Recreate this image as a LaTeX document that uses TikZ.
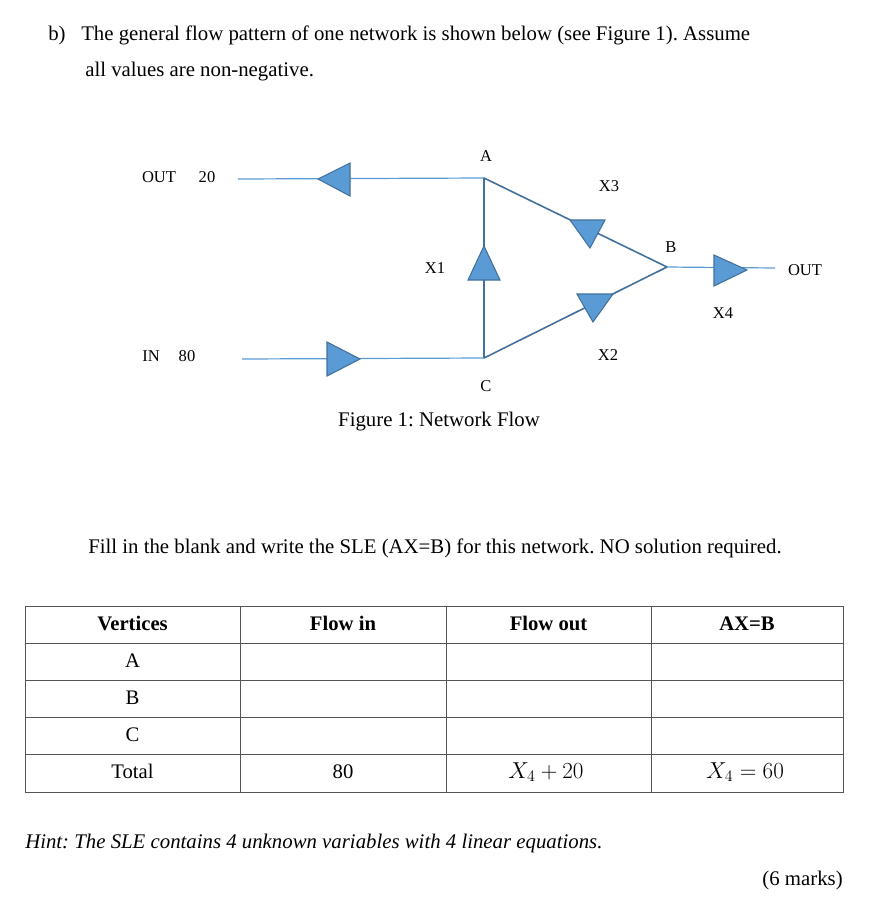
\documentclass[tikz,border=0pt]{standalone}
\usepackage{fontspec}
\setmainfont{Liberation Serif}
\frenchspacing
\definecolor{linec}{HTML}{5B9BD5}
\definecolor{edgec}{HTML}{41719C}
\definecolor{gridc}{HTML}{555555}
\begin{document}
\begin{tikzpicture}[x=0.75pt,y=-0.75pt,
  txt/.style={inner sep=0pt,font=\fontsize{15.6}{18}\selectfont},
  lbl/.style={inner sep=0pt,font=\fontsize{12.4}{14}\selectfont},
  cell/.style={inner sep=0pt,anchor=base,font=\fontsize{15.5}{18}\selectfont},
  mcell/.style={inner sep=0pt,anchor=base,font=\fontsize{17.2}{20}\selectfont},
  flow/.style={draw=linec,line width=0.9pt},
  edge/.style={draw=edgec,line width=1.2pt},
  tri/.style={fill=linec,draw=edgec,line width=0.8pt,line join=miter},
  grid/.style={draw=gridc,line width=0.7pt}]
\useasboundingbox (0,0) rectangle (882,922);

% heading
\node[txt,anchor=base west] (b) at (48,40) {b)};
\node[txt,anchor=base west] (l1) at (81,40) {The general flow pattern of one network is shown below (see Figure 1). Assume};
\node[txt,anchor=base west] (l2) at (85,76) {all values are non-negative.};

% network points
\coordinate (A) at (484,178);
\coordinate (B) at (667,267);
\coordinate (C) at (484,358);
\coordinate (outL) at (238,179);
\coordinate (inL) at (242,359);
\coordinate (outR) at (775,268);

\draw[flow] (outL) -- (A);
\draw[flow] (inL) -- (C);
\draw[flow] (B) -- (outR);
\draw[edge] (C) -- (A);
\draw[edge] (A) -- (B);
\draw[edge] (C) -- (B);

% triangles
\draw[tri] (318,179) -- (350,163) -- (350,196) -- cycle;
\draw[tri] (360,359) -- (327,342) -- (327,376) -- cycle;
\draw[tri] (484,246) -- (468,280) -- (500,280) -- cycle;
\draw[tri] (570,220) -- (605,220) -- (590,248) -- cycle;
\draw[tri] (577,294) -- (613,294) -- (593,322) -- cycle;
\draw[tri] (747,270) -- (714,255) -- (714,286) -- cycle;

% labels
\node[lbl] (lA) at (486,156) {A};
\node[lbl] (lB) at (671,247) {B};
\node[lbl] (lC) at (486,386) {C};
\node[lbl] (lout1) at (159,177) {OUT};
\node[lbl] (l20) at (207,177) {20};
\node[lbl] (lin) at (151,356) {IN};
\node[lbl] (l80) at (187,356) {80};
\node[lbl] (lx1) at (435,268) {X1};
\node[lbl] (lx3) at (609,186) {X3};
\node[lbl] (lx2) at (608,355) {X2};
\node[lbl] (lx4) at (723,313) {X4};
\node[lbl] (lout2) at (805,270) {OUT};
\node[txt] (cap) at (439,422) {Figure 1: Network Flow};

\node[txt,anchor=base west] (fill) at (88,553) {Fill in the blank and write the SLE (AX=B) for this network. NO solution required.};

% table
\draw[grid] (25,606) rectangle (843,792);
\foreach \y in {643,680,717,754} \draw[grid] (25,\y) -- (843,\y);
\foreach \x in {240,446,651} \draw[grid] (\x,606) -- (\x,792);

\node[cell] (h1) at (132.5,630) {\textbf{Vertices}};
\node[cell] (h2) at (343,630) {\textbf{Flow in}};
\node[cell] (h3) at (548.5,630) {\textbf{Flow out}};
\node[cell] (h4) at (747,630) {\textbf{AX=B}};
\node[cell] (rA) at (132.5,667) {A};
\node[cell] (rB) at (132.5,704) {B};
\node[cell] (rC) at (132.5,741) {C};
\node[cell] (rT) at (132.5,778) {Total};
\node[cell] (t2) at (343,778) {80};
\node[mcell] (t3) at (546,778) {$X_4+20$};
\node[mcell] (t4) at (745,778) {$X_4=60$};

\node[txt,anchor=base west] (hint) at (25,848) {\itshape Hint: The SLE contains 4 unknown variables with 4 linear equations.};
\node[txt,anchor=base east] (marks) at (843,885) {(6 marks)};
\end{tikzpicture}
\end{document}
